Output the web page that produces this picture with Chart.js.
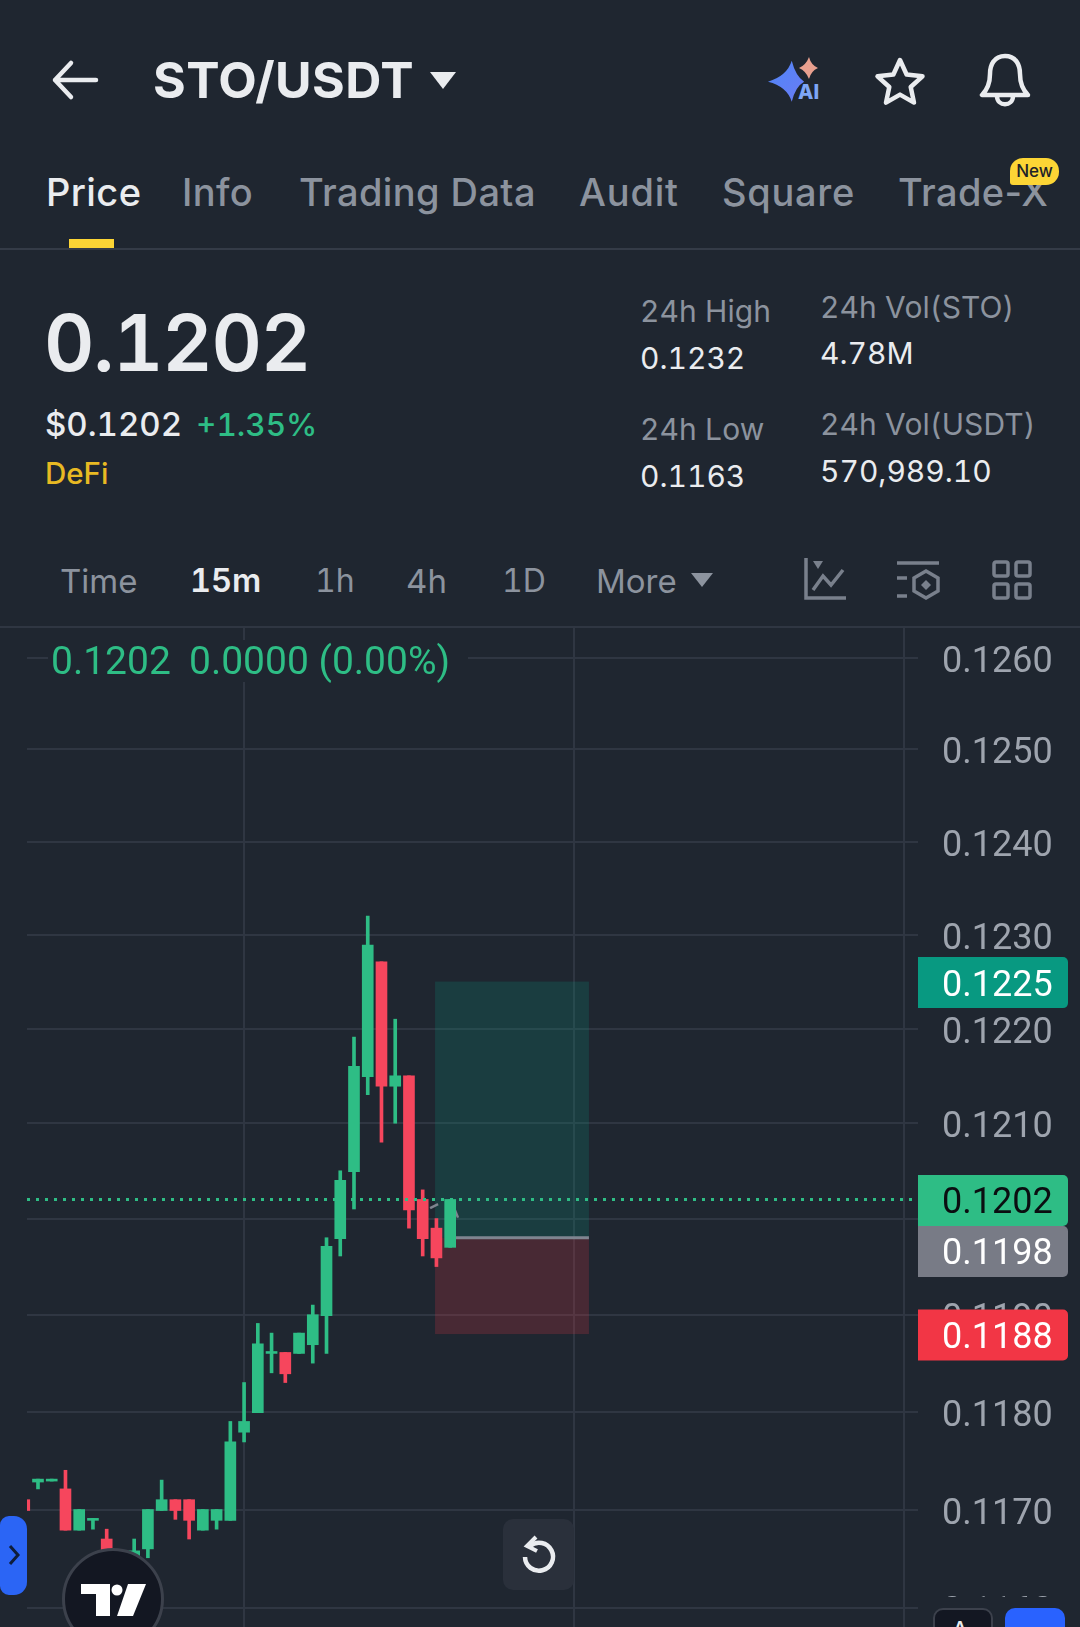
<!DOCTYPE html>
<html>
<head>
<meta charset="utf-8">
<title>STO/USDT</title>
<script src="https://cdn.jsdelivr.net/npm/chart.js@4"></script>
<style>
html, body { margin: 0; padding: 0; background: #1f2630; }
#page { position: relative; width: 1080px; height: 1627px; overflow: hidden; background: #1f2630; font-family: Inter, sans-serif; font-variant-numeric: tabular-nums; font-feature-settings: "tnum"; }
#page span, #page div { position: absolute; white-space: nowrap; }
#page svg { position: absolute; overflow: visible; }
canvas { position: absolute; left: 0; top: 626px; }
.tab { font-size: 38px; font-weight: 500; color: #8c939e; top: 170px; line-height: 46px; letter-spacing: .4px; font-feature-settings: normal; font-variant-numeric: normal; }
.stat { font-size: 30px; color: #8c939e; line-height: 36px; letter-spacing: .1px; }
.val { font-size: 30px; color: #eaecef; line-height: 36px; }
.time { font-size: 33px; color: #8c939e; top: 561px; line-height: 40px; }
</style>
</head>
<body>
<div id="page">
  <svg style="left:52px;top:60px" width="46" height="40" fill="none" stroke="#eaecef" stroke-width="4.5" stroke-linecap="round" stroke-linejoin="round"><path d="M44 20H3M19 3L3 20l16 17"/></svg>
  <span style="left:153px;top:50px;font-size:50px;font-weight:700;color:#eaecef;line-height:60px;letter-spacing:.4px">STO/USDT</span>
  <svg style="left:430px;top:72px" width="26" height="17"><path d="M0 0H26L13 17Z" fill="#eaecef"/></svg>

  <svg style="left:768px;top:56px" width="52" height="48">
    <defs><linearGradient id="aiG" x1="0" y1="0" x2="1" y2="1"><stop offset="0" stop-color="#4f86f7"/><stop offset="1" stop-color="#6a7cf5"/></linearGradient></defs>
    <path d="M25 4Q29 20 38 26 29 31 25 47 20 31 0 26 20 20 25 4Z" transform="translate(0,1) scale(.95)" fill="url(#aiG)"/>
    <path d="M41 1Q43 9 50 12 43 15 41 23 38 15 31 12 38 9 41 1Z" fill="#e8a08f"/>
  </svg>
  <span style="left:798px;top:81px;font-size:20px;font-weight:800;color:#7ea6f7;line-height:22px">AI</span>
  <svg style="left:875px;top:57px" width="50" height="47" fill="none" stroke="#eaecef" stroke-width="4.5" stroke-linejoin="round"><path d="M25 3l6.6 14.5 15.9 1.8-11.8 10.7 3.3 15.6L25 37.6 11 45.6l3.3-15.6L2.5 19.300l15.900-1.800z"/></svg>
  <svg style="left:980px;top:54px" width="50" height="52" fill="none" stroke="#eaecef" stroke-width="4.500" stroke-linejoin="round" stroke-linecap="round"><path d="M25 2C14 2 10 11 10 20c0 9-2 15-8 21h46c-6-6-8-12-8-21 0-9-4-18-15-18z"/><path d="M17 42c0 11 16 11 16 0"/></svg>

  <span class="tab" style="left:46px;color:#eaecef;top:169px">Price</span>
  <span class="tab" style="left:182px;top:169px">Info</span>
  <span class="tab" style="left:299px;top:169px">Trading Data</span>
  <span class="tab" style="left:579px;top:169px;letter-spacing:.8px">Audit</span>
  <span class="tab" style="left:722px;top:169px;letter-spacing:.7px">Square</span>
  <span class="tab" style="left:898px;top:169px">Trade-X</span>
  <div style="left:1010px;top:158px;width:49px;height:27px;border-radius:13px 13px 13px 3px;background:#fcd535;color:#1e2329;font-size:17px;font-weight:500;line-height:27px;text-align:center">New</div>
  <div style="left:69px;top:239px;width:45px;height:9px;background:#fcd535"></div>
  <div style="left:0;top:248px;width:1080px;height:2px;background:#343b47"></div>

  <span style="left:44px;top:296px;font-size:78px;font-weight:600;color:#eaecef;line-height:94px;letter-spacing:-1.2px">0.1202</span>
  <span style="left:45px;top:404px;font-size:33px;font-weight:500;color:#eaecef;line-height:40px">$0.1202</span>
  <span style="left:196px;top:405px;font-size:31.500px;font-weight:500;color:#2ebd85;line-height:40px">+1.35%</span>
  <span style="left:45px;top:455px;font-size:29.5px;font-weight:500;color:#e8b923;line-height:36px">DeFi</span>

  <span class="stat" style="left:640px;top:293px">24h High</span>
  <span class="val" style="left:640px;top:340px">0.1232</span>
  <span class="stat" style="left:640px;top:411px">24h Low</span>
  <span class="val" style="left:640px;top:458px">0.1163</span>
  <span class="stat" style="left:820px;top:289px">24h Vol(STO)</span>
  <span class="val" style="left:820px;top:335px">4.78M</span>
  <span class="stat" style="left:820px;top:406px">24h Vol(USDT)</span>
  <span class="val" style="left:820px;top:453px">570,989.10</span>

  <span class="time" style="left:60px">Time</span>
  <span class="time" style="left:190px;color:#eaecef;font-weight:600;font-size:32.500px">15m</span>
  <span class="time" style="left:315px;font-size:32px">1h</span>
  <span class="time" style="left:406px">4h</span>
  <span class="time" style="left:502px;font-size:32px">1D</span>
  <span class="time" style="left:596px">More</span>
  <svg style="left:691px;top:573px" width="22" height="14"><path d="M0 0H22L11 14Z" fill="#8c939e"/></svg>
  <svg style="left:804px;top:558px" width="42" height="42" fill="none" stroke="#79808c" stroke-width="3.500"><path d="M2 0V40H42"/><path d="M9 32l10-14 8 9 12-15"/><path d="M9 3h10l-5 8z" fill="#79808c" stroke="none"/></svg>
  <svg style="left:897px;top:561px" width="42" height="38" fill="none" stroke="#79808c" stroke-width="3.500"><path d="M0 2H42M0 17H10M0 35H10"/><path d="M29 10l12 7v13l-12 7-12-7V17z"/><path d="M29 19l5 5-5 5-5-5z" fill="#79808c" stroke="none"/></svg>
  <svg style="left:992px;top:560px" width="40" height="40" fill="none" stroke="#79808c" stroke-width="3.500"><rect x="2" y="2" width="14" height="14" rx="2"/><rect x="24" y="2" width="14" height="14" rx="2"/><rect x="2" y="24" width="14" height="14" rx="2"/><rect x="24" y="24" width="14" height="14" rx="2"/></svg>

  <canvas id="kline-chart" width="1080" height="1001"></canvas>

  <div style="left:0;top:626px;width:1080px;height:2px;background:#2f3642"></div>
  <div style="left:48px;top:640px;width:420px;height:42px;background:#1f2630"></div>
  <span style="left:51px;top:638px;font-family:Roboto;font-size:39px;color:#2ebd85;line-height:46px">0.1202</span>
  <span style="left:189px;top:638px;font-family:Roboto;font-size:39px;color:#2ebd85;line-height:46px">0.0000 (0.00%)</span>

  <div style="left:0;top:1516px;width:27px;height:79px;border-radius:9px 13px 13px 9px;background:#2b65f5"></div>
  <svg style="left:8px;top:1544px" width="12" height="22" fill="none" stroke="#0e1d3a" stroke-width="3"><path d="M2 2l8 9-8 9"/></svg>

  <div style="left:62px;top:1548px;width:96px;height:96px;border-radius:50%;background:#131722;border:3px solid #3c414c"></div>
  <svg style="left:81px;top:1584px" width="66" height="32" fill="#fff"><path d="M0 0H29V32H15V10H0Z"/><circle cx="36" cy="6" r="5.500"/><path d="M47 0H65L52 32H36Z"/></svg>

  <div style="left:503px;top:1519px;width:71px;height:71px;border-radius:10px;background:#2a303b"></div>
  <svg style="left:522px;top:1537px" width="34" height="36" fill="none" stroke="#eaecef" stroke-width="4.500"><path d="M8 9A14 14 0 1 1 3 20"/><path d="M14 0L5 9l10 5" stroke-width="4"/></svg>

  <div style="left:919px;top:1597px;width:161px;height:30px;background:#1f2630"></div>
  <div style="left:933px;top:1608px;width:56px;height:40px;border-radius:10px;background:#131722;border:2px solid #3c414c;overflow:hidden"></div>
  <div style="left:1005px;top:1608px;width:60px;height:40px;border-radius:10px;background:#2962ff"></div>
  <span style="left:951px;top:1616px;font-size:26px;color:#eaecef;line-height:30px">A</span>
  <span style="left:1025px;top:1616px;font-size:26px;color:#fff;line-height:30px">+</span>
</div>

<script>
// 15m candles, left to right. Candles 6-8 sit mostly behind the logo, so those are a guess.
const candleOpen = [0.11710, 0.11728, 0.11729, 0.11721, 0.11679, 0.11689, 0.11670, 0.11640, 0.11640, 0.11660, 0.11699, 0.11710, 0.11710, 0.11679, 0.11689, 0.11689, 0.11779, 0.11799, 0.11860, 0.11861, 0.11860, 0.11869, 0.11899, 0.11979, 0.12049, 0.12149, 0.12271, 0.12139, 0.12150, 0.12020, 0.11990, 0.11970];
const candleClose = [0.11699, 0.11731, 0.11731, 0.11679, 0.11700, 0.11691, 0.11655, 0.11655, 0.11658, 0.11700, 0.11710, 0.11699, 0.11689, 0.11700, 0.11700, 0.11769, 0.11790, 0.11870, 0.11862, 0.11839, 0.11881, 0.11900, 0.11971, 0.12040, 0.12160, 0.12289, 0.12139, 0.12150, 0.12009, 0.11979, 0.11959, 0.12020];
const candleHigh = [0.11710, 0.11731, 0.11731, 0.11740, 0.11700, 0.11691, 0.11680, 0.11655, 0.11670, 0.11700, 0.11730, 0.11710, 0.11710, 0.11700, 0.11700, 0.11790, 0.11830, 0.11891, 0.11881, 0.11861, 0.11881, 0.11910, 0.11980, 0.12050, 0.12191, 0.12320, 0.12271, 0.12210, 0.12150, 0.12030, 0.12000, 0.12020];
const candleLow = [0.11699, 0.11721, 0.11729, 0.11679, 0.11679, 0.11680, 0.11650, 0.11640, 0.11640, 0.11651, 0.11699, 0.11690, 0.11670, 0.11679, 0.11680, 0.11689, 0.11769, 0.11799, 0.11840, 0.11830, 0.11860, 0.11850, 0.11860, 0.11961, 0.12010, 0.12130, 0.12080, 0.12100, 0.11990, 0.11961, 0.11950, 0.11970];

const yTickValues = [0.126, 0.125, 0.124, 0.123, 0.122, 0.121, 0.12, 0.119, 0.118, 0.117, 0.116];
const yTickLabels = ['0.1260', '0.1250', '0.1240', '0.1230', '0.1220', '0.1210', '0.1200', '0.1190', '0.1180', '0.1170', '0.1160'];
const xGridIndexes = [16, 40, 64];

const lastPrice = 0.1202;
const targetPrice = 0.1225;
const entryPrice = 0.1198;
const stopPrice = 0.1188;
const positionStart = 29.9;
const positionEnd = 41.1;

const markOneX = [29.54, 30.12];
const markOneY = [0.12011, 0.12015];
const markTwoX = [31.28, 31.57];
const markTwoY = [0.12011, 0.12001];

const GREEN = '#2ebd85';
const RED = '#f6465d';
const GRID = '#2f3642';
const xMin = 0.2;
const xMax = 65.05;

function candleColor(index) {
    return candleClose[index] >= candleOpen[index] ? GREEN : RED;
}

// the long/short box, under the candles but over the grid
const positionBox = {
    id: 'positionBox',
    beforeDatasetsDraw(chart) {
        const { ctx, scales: { x, y } } = chart;
        const left = x.getPixelForValue(positionStart);
        const width = x.getPixelForValue(positionEnd) - left;
        const top = y.getPixelForValue(targetPrice);
        const mid = y.getPixelForValue(entryPrice);
        const bottom = y.getPixelForValue(stopPrice);
        ctx.save();
        ctx.fillStyle = 'rgba(8, 153, 129, 0.2)';
        ctx.fillRect(left, top, width, mid - top);
        ctx.fillStyle = 'rgba(242, 54, 69, 0.2)';
        ctx.fillRect(left, mid, width, bottom - mid);
        ctx.fillStyle = '#7f8590';
        const lineLeft = x.getPixelForValue(31);
        ctx.fillRect(lineLeft, mid - 1.5, left + width - lineLeft, 3);
        ctx.restore();
    }
};

// price tags on the right axis, pushed down when they would overlap
const priceTags = {
    id: 'priceTags',
    afterDraw(chart) {
        const { ctx, scales: { y } } = chart;
        const tags = [
            { price: targetPrice, bg: '#089981', fg: '#ffffff' },
            { price: lastPrice, bg: GREEN, fg: '#0b0e11' },
            { price: entryPrice, bg: '#787b86', fg: '#ffffff' },
            { price: stopPrice, bg: '#f23645', fg: '#ffffff' }
        ];
        const halfHeight = 25.5;
        let lastBottom = -Infinity;
        ctx.save();
        ctx.font = '36px Roboto';
        ctx.textBaseline = 'middle';
        ctx.textAlign = 'left';
        tags.forEach(tag => {
            let mid = y.getPixelForValue(tag.price);
            if (mid - halfHeight < lastBottom) mid = lastBottom + halfHeight;
            lastBottom = mid + halfHeight;
            ctx.fillStyle = tag.bg;
            ctx.beginPath();
            ctx.roundRect(918, mid - halfHeight + 1, 150, halfHeight * 2, [0, 5, 5, 0]);
            ctx.fill();
            ctx.fillStyle = tag.fg;
            ctx.fillText(tag.price.toFixed(4), 942, mid + 5);
        });
        ctx.restore();
    }
};

function zeroPadding(scale) {
    scale.paddingTop = 0;
    scale.paddingBottom = 0;
    scale.paddingLeft = 0;
    scale.paddingRight = 0;
}

window.onload = function () {
    const ctx = document.getElementById('kline-chart').getContext('2d');
    new Chart(ctx, {
        type: 'bar',
        plugins: [positionBox, priceTags],
        data: {
            datasets: [
                {
                    label: 'Last price',
                    type: 'line',
                    data: [{ x: xMin, y: lastPrice }, { x: xMax, y: lastPrice }],
                    borderColor: GREEN,
                    borderWidth: 3,
                    borderDash: [3, 6],
                    pointRadius: 0,
                    order: 0
                },
                {
                    label: 'Mark 1',
                    type: 'line',
                    data: markOneX.map((v, i) => ({ x: v, y: markOneY[i] })),
                    borderColor: '#7f8590',
                    borderWidth: 2.5,
                    pointRadius: 0,
                    order: 3
                },
                {
                    label: 'Mark 2',
                    type: 'line',
                    data: markTwoX.map((v, i) => ({ x: v, y: markTwoY[i] })),
                    borderColor: '#7f8590',
                    borderWidth: 2.5,
                    pointRadius: 0,
                    order: 3
                },
                {
                    label: 'Body',
                    data: candleOpen.map((v, i) => ({ x: i, y: [v, candleClose[i]] })),
                    backgroundColor: c => candleColor(c.dataIndex),
                    barThickness: 11,
                    grouped: false,
                    order: 1
                },
                {
                    label: 'Wick',
                    data: candleLow.map((v, i) => ({ x: i, y: [v, candleHigh[i]] })),
                    backgroundColor: c => candleColor(c.dataIndex),
                    barThickness: 3,
                    grouped: false,
                    order: 2
                }
            ]
        },
        options: {
            responsive: false,
            animation: false,
            devicePixelRatio: 1,
            layout: { padding: { left: 27, right: 0, top: 0, bottom: 0 } },
            plugins: { legend: { display: false }, tooltip: { enabled: false } },
            scales: {
                x: {
                    type: 'linear',
                    min: xMin,
                    max: xMax,
                    offset: false,
                    afterBuildTicks: s => { s.ticks = xGridIndexes.map(v => ({ value: v })); },
                    afterFit: s => { s.height = 0; zeroPadding(s); },
                    ticks: { display: false },
                    border: { display: false },
                    grid: { color: GRID, lineWidth: 2, drawTicks: false, offset: false }
                },
                y: {
                    type: 'logarithmic',
                    position: 'right',
                    min: 0.11581,
                    max: 0.12635,
                    afterBuildTicks: s => { s.ticks = yTickValues.map(v => ({ value: v })); },
                    afterFit: s => { s.width = 162; zeroPadding(s); },
                    border: { display: false },
                    grid: { color: GRID, lineWidth: 2, drawTicks: false },
                    ticks: {
                        autoSkip: false,
                        padding: 24,
                        labelOffset: 5,
                        color: '#9ea4ae',
                        font: { family: 'Roboto', size: 36 },
                        callback: (value, index) => yTickLabels[index]
                    }
                }
            }
        }
    });
};
</script>
</body>
</html>
